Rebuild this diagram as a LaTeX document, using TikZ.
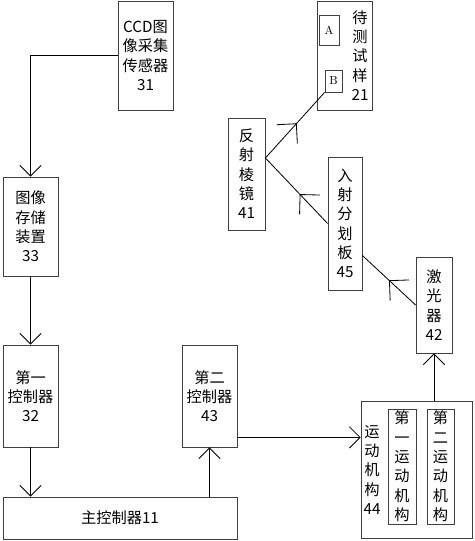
\documentclass[tikz,border=0pt]{standalone}
\usepackage{fontspec}
\newfontfamily\cjk{Noto Sans CJK SC}
\usetikzlibrary{arrows.meta,calc,decorations.markings}
\begin{document}
\begin{tikzpicture}[x=0.03cm,y=-0.03cm,line width=0.7pt,
  every node/.style={align=center,inner sep=0pt,font=\cjk\fontsize{13}{16.5}\selectfont},
  box/.style 2 args={draw=black!75,minimum width=#1*0.03cm,minimum height=#2*0.03cm},
  arr/.style={-{Straight Barb[length=3.2mm,width=6.4mm]}},
  mk/.style={postaction={decorate},decoration={markings,mark=at position #1 with {\arrow{Straight Barb[length=4.2mm,width=8.4mm]}}}}]
 \useasboundingbox (0,0) rectangle (474,541);
 \node[box={55}{109}] (ccd) at (145.5,55.5) {CCD图\\像采集\\传感器\\31};
 \node[box={55}{99}] (store) at (30.5,226.5) {图像\\存储\\装置\\33};
 \node[box={55}{102}] (fst) at (30.5,396) {第一\\控制器\\32};
 \node[box={55}{102}] (snd) at (209.5,396) {第二\\控制器\\43};
 \node[box={234}{42}] (main) at (120,518) {主控制器11};
 \node[box={55}{109}] (smp) at (344.5,55.5) {};
 \node (smpt) at (360,55.5) {待\\测\\试\\样\\21};
 \node[box={20}{30},font=\fontsize{10}{12}\selectfont] (a) at (329,30) {A};
 \node[box={17}{22},font=\fontsize{10}{12}\selectfont] (b) at (333.5,81) {B};
 \node[box={37}{112}] (pri) at (246.5,174) {反\\射\\棱\\镜\\41};
 \node[box={34}{133}] (ent) at (345,223.5) {入\\射\\分\\划\\板\\45};
 \node[box={36}{96}] (las) at (434,305) {激\\光\\器\\42};
 \node[box={111}{137}] (mot) at (416.5,469.5) {};
 \node (mott) at (372,470) {运\\动\\机\\构\\44};
 \node[box={28}{115}] (m1) at (402,466.5) {第\\一\\运\\动\\机\\构};
 \node[box={27}{115}] (m2) at (440.5,466.5) {第\\二\\运\\动\\机\\构};
 \draw[arr] (ccd.west) -| (store.north);
 \draw[arr] (store) -- (fst);
 \draw[arr] (fst) -- (fst |- main.north);
 \draw[arr] (snd |- main.north) -- (snd);
 \coordinate (o) at ($(snd.south east)+(0,-10)$);
 \draw[arr] (o) -- (o -| mot.west);
 \draw[arr] (las |- mot.north) -- (las);
 \coordinate (e) at ($(ent.east)+(0,32)$);
 \coordinate (v) at ($(pri.east)+(0,-16)$);
 \draw[mk=0.5] (las.west) -- (e);
 \draw[mk=0.45] (ent.west) -- (v);
 \draw[mk=0.53] (v) -- (b.south west);
\end{tikzpicture}
\end{document}
